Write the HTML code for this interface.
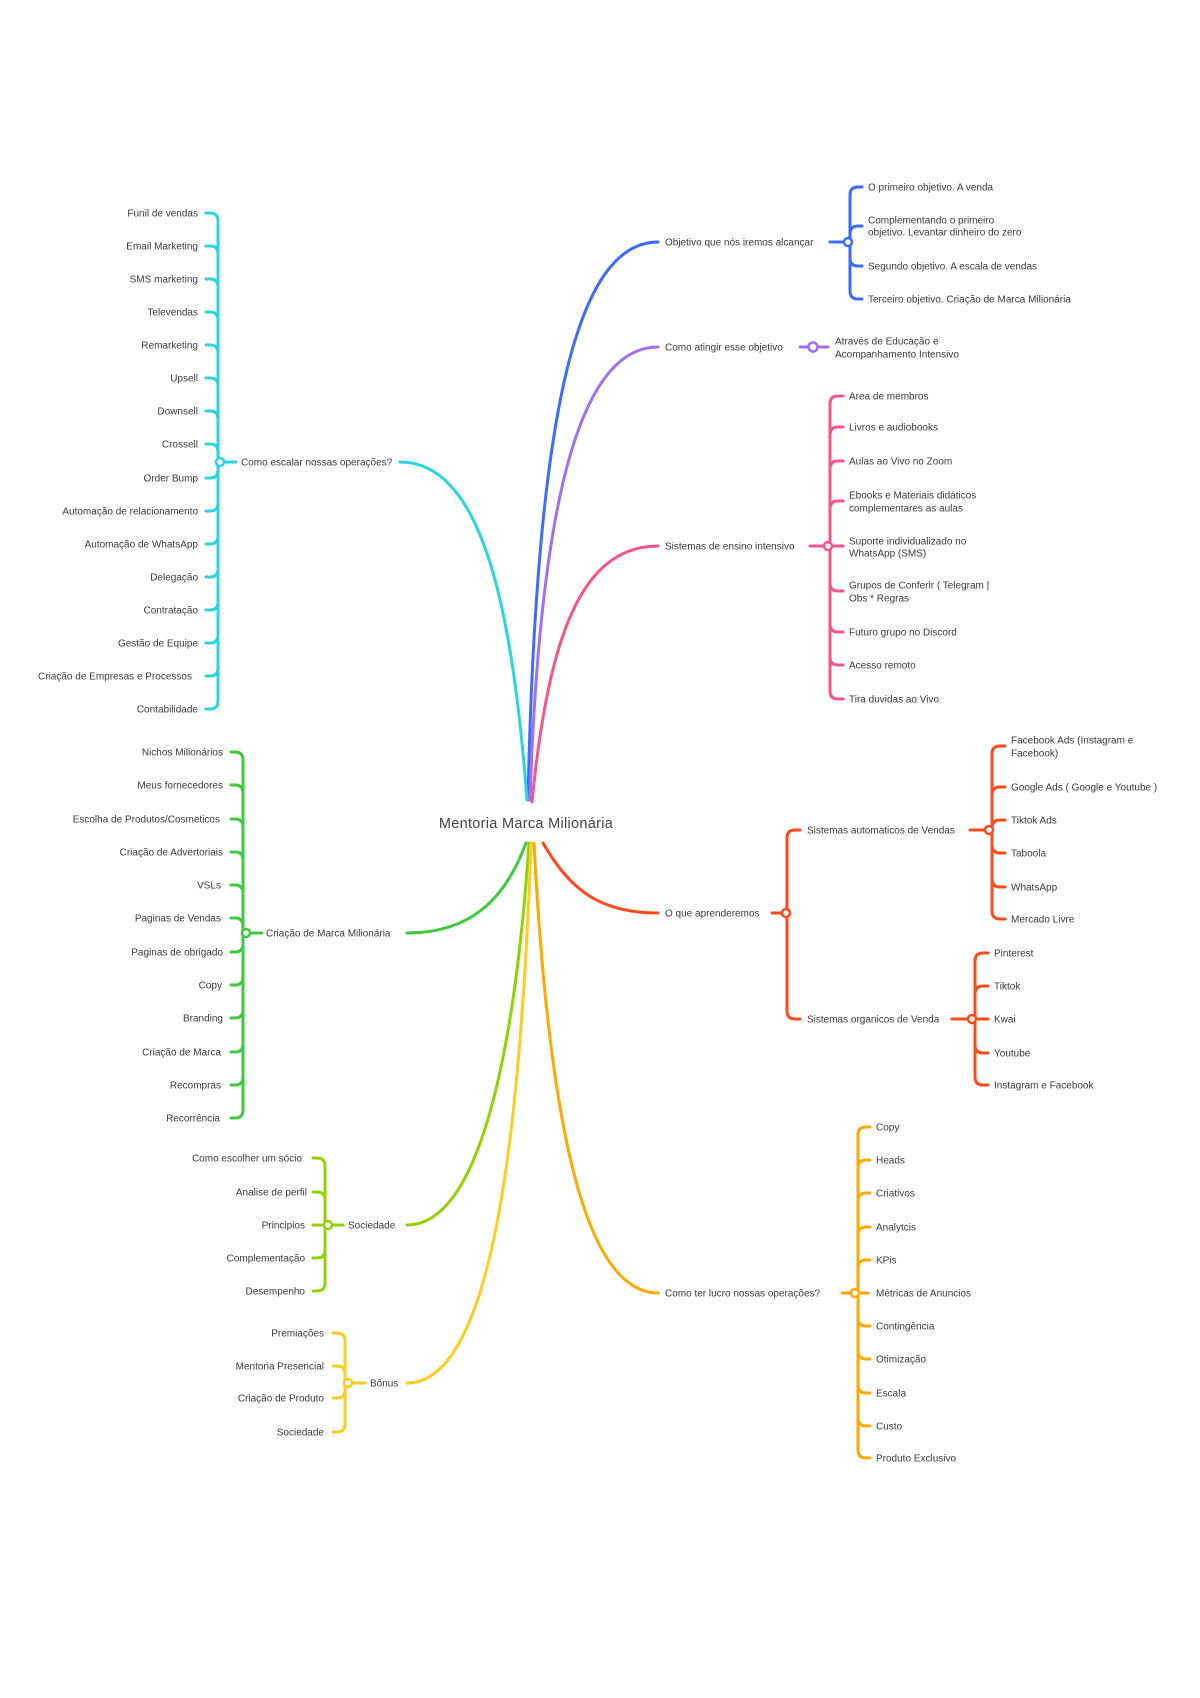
<!DOCTYPE html>
<html><head><meta charset="utf-8"><style>
html,body{margin:0;padding:0;background:#fff}
svg{display:block}
text{font-family:"Liberation Sans",sans-serif;font-size:10px;fill:#3a3a3a}
.e{text-anchor:end}
path,line{fill:none;stroke-width:3;stroke-linecap:round}
circle{fill:#fff;stroke-width:2.5}
</style></head><body>
<svg width="1200" height="1698" viewBox="0 0 1200 1698" xmlns="http://www.w3.org/2000/svg">
<text x="526" y="823" dy=".35em" style="font-size:14.5px;fill:#444;text-anchor:middle;letter-spacing:.3px">Mentoria Marca Milionária</text>

<!-- BLUE -->
<g stroke="#3d6bff">
<path d="M528 800 C536 420 575 242 658 242"/>
<line x1="830" y1="242" x2="846" y2="242"/>
<path d="M850 242 V195 Q850 187 858 187 H862"/>
<path d="M850 242 V234 Q850 226 858 226 H862"/>
<path d="M850 242 V258 Q850 266 858 266 H862"/>
<path d="M850 242 V291 Q850 299 858 299 H862"/>
<circle cx="848" cy="242" r="4"/>
</g>
<text x="665" y="242" dy=".35em">Objetivo que nós iremos alcançar</text>
<text x="868" y="187" dy=".35em">O primeiro objetivo. A venda</text>
<text x="868" y="220" dy=".35em">Complementando o primeiro</text>
<text x="868" y="232" dy=".35em">objetivo. Levantar dinheiro do zero</text>
<text x="868" y="266" dy=".35em">Segundo objetivo. A escala de vendas</text>
<text x="868" y="299" dy=".35em">Terceiro objetivo. Criação de Marca Milionária</text>

<!-- PURPLE -->
<g stroke="#a36ff2">
<path d="M530 800 C540 500 580 347 658 347"/>
<line x1="800" y1="347" x2="828" y2="347"/>
<circle cx="813" cy="347" r="4.5"/>
</g>
<text x="665" y="347" dy=".35em">Como atingir esse objetivo</text>
<text x="835" y="341" dy=".35em">Através de Educação e</text>
<text x="835" y="354" dy=".35em">Acompanhamento Intensivo</text>

<!-- PINK -->
<g stroke="#f5558a">
<path d="M532 802 C548 640 580 546 658 546"/>
<line x1="810" y1="546" x2="826" y2="546"/>
<path d="M830 546 V404 Q830 396 838 396 H843"/>
<path d="M830 546 V435 Q830 427 838 427 H843"/>
<path d="M830 546 V469 Q830 461 838 461 H843"/>
<path d="M830 546 V509 Q830 501 838 501 H843"/>
<path d="M830 546 H843"/>
<path d="M830 546 V583 Q830 591 838 591 H843"/>
<path d="M830 546 V624 Q830 632 838 632 H843"/>
<path d="M830 546 V657 Q830 665 838 665 H843"/>
<path d="M830 546 V691 Q830 699 838 699 H843"/>
<circle cx="828" cy="546" r="4"/>
</g>
<text x="665" y="546" dy=".35em">Sistemas de ensino intensivo</text>
<text x="849" y="396" dy=".35em">Area de membros</text>
<text x="849" y="427" dy=".35em">Livros e audiobooks</text>
<text x="849" y="461" dy=".35em">Aulas ao Vivo no Zoom</text>
<text x="849" y="495" dy=".35em">Ebooks e Materiais didáticos</text>
<text x="849" y="508" dy=".35em">complementares as aulas</text>
<text x="849" y="541" dy=".35em">Suporte individualizado no</text>
<text x="849" y="553" dy=".35em">WhatsApp (SMS)</text>
<text x="849" y="585" dy=".35em">Grupos de Conferir ( Telegram |</text>
<text x="849" y="598" dy=".35em">Obs * Regras</text>
<text x="849" y="632" dy=".35em">Futuro grupo no Discord</text>
<text x="849" y="665" dy=".35em">Acesso remoto</text>
<text x="849" y="699" dy=".35em">Tira duvidas ao Vivo</text>

<!-- CYAN -->
<g stroke="#2bd5dd">
<path d="M527 800 C512 600 480 462 400 462"/>
<line x1="224" y1="462" x2="236" y2="462"/>
<path d="M218 462 V221 Q218 213 210 213 H206"/>
<path d="M218 462 V254 Q218 246 210 246 H206"/>
<path d="M218 462 V287 Q218 279 210 279 H206"/>
<path d="M218 462 V320 Q218 312 210 312 H206"/>
<path d="M218 462 V353 Q218 345 210 345 H206"/>
<path d="M218 462 V386 Q218 378 210 378 H206"/>
<path d="M218 462 V419 Q218 411 210 411 H206"/>
<path d="M218 462 V452 Q218 444 210 444 H206"/>
<path d="M218 462 V470 Q218 478 210 478 H206"/>
<path d="M218 462 V503 Q218 511 210 511 H206"/>
<path d="M218 462 V536 Q218 544 210 544 H206"/>
<path d="M218 462 V569 Q218 577 210 577 H206"/>
<path d="M218 462 V602 Q218 610 210 610 H206"/>
<path d="M218 462 V635 Q218 643 210 643 H206"/>
<path d="M218 462 V668 Q218 676 210 676 H206"/>
<path d="M218 462 V701 Q218 709 210 709 H206"/>
<circle cx="220" cy="462" r="4"/>
</g>
<text x="241" y="462" dy=".35em">Como escalar nossas operações?</text>
<text class="e" x="198" y="213" dy=".35em">Funil de vendas</text>
<text class="e" x="198" y="246" dy=".35em">Email Marketing</text>
<text class="e" x="198" y="279" dy=".35em">SMS marketing</text>
<text class="e" x="198" y="312" dy=".35em">Televendas</text>
<text class="e" x="198" y="345" dy=".35em">Remarketing</text>
<text class="e" x="198" y="378" dy=".35em">Upsell</text>
<text class="e" x="198" y="411" dy=".35em">Downsell</text>
<text class="e" x="198" y="444" dy=".35em">Crossell</text>
<text class="e" x="198" y="478" dy=".35em">Order Bump</text>
<text class="e" x="198" y="511" dy=".35em">Automação de relacionamento</text>
<text class="e" x="198" y="544" dy=".35em">Automação de WhatsApp</text>
<text class="e" x="198" y="577" dy=".35em">Delegação</text>
<text class="e" x="198" y="610" dy=".35em">Contratação</text>
<text class="e" x="198" y="643" dy=".35em">Gestão de Equipe</text>
<text class="e" x="192" y="676" dy=".35em">Criação de Empresas e Processos</text>
<text class="e" x="198" y="709" dy=".35em">Contabilidade</text>

<!-- GREEN -->
<g stroke="#3ec93e">
<path d="M526 843 C505 900 470 933 407 933"/>
<line x1="250" y1="933" x2="262" y2="933"/>
<path d="M243 933 V760 Q243 752 235 752 H231"/>
<path d="M243 933 V793 Q243 785 235 785 H231"/>
<path d="M243 933 V827 Q243 819 235 819 H231"/>
<path d="M243 933 V860 Q243 852 235 852 H231"/>
<path d="M243 933 V893 Q243 885 235 885 H231"/>
<path d="M243 933 V926 Q243 918 235 918 H231"/>
<path d="M243 933 V944 Q243 952 235 952 H231"/>
<path d="M243 933 V977 Q243 985 235 985 H231"/>
<path d="M243 933 V1010 Q243 1018 235 1018 H231"/>
<path d="M243 933 V1044 Q243 1052 235 1052 H231"/>
<path d="M243 933 V1077 Q243 1085 235 1085 H231"/>
<path d="M243 933 V1110 Q243 1118 235 1118 H231"/>
<circle cx="246" cy="933" r="4"/>
</g>
<text x="266" y="933" dy=".35em">Criação de Marca Milionária</text>
<text class="e" x="223" y="752" dy=".35em">Nichos Milionários</text>
<text class="e" x="223" y="785" dy=".35em">Meus fornecedores</text>
<text class="e" x="220" y="819" dy=".35em">Escolha de Produtos/Cosmeticos</text>
<text class="e" x="223" y="852" dy=".35em">Criação de Advertoriais</text>
<text class="e" x="221" y="885" dy=".35em">VSLs</text>
<text class="e" x="221" y="918" dy=".35em">Paginas de Vendas</text>
<text class="e" x="223" y="952" dy=".35em">Paginas de obrigado</text>
<text class="e" x="222" y="985" dy=".35em">Copy</text>
<text class="e" x="223" y="1018" dy=".35em">Branding</text>
<text class="e" x="221" y="1052" dy=".35em">Criação de Marca</text>
<text class="e" x="221" y="1085" dy=".35em">Recompras</text>
<text class="e" x="220" y="1118" dy=".35em">Recorrência</text>

<!-- YELLOW-GREEN -->
<g stroke="#8fd400">
<path d="M529 843 C515 1050 480 1225 407 1225"/>
<line x1="332" y1="1225" x2="343" y2="1225"/>
<path d="M325 1225 V1166 Q325 1158 317 1158 H313"/>
<path d="M325 1225 V1200 Q325 1192 317 1192 H313"/>
<path d="M325 1225 H313"/>
<path d="M325 1225 V1250 Q325 1258 317 1258 H313"/>
<path d="M325 1225 V1283 Q325 1291 317 1291 H313"/>
<circle cx="328" cy="1225" r="4"/>
</g>
<text x="348" y="1225" dy=".35em">Sociedade</text>
<text class="e" x="302" y="1158" dy=".35em">Como escolher um sócio</text>
<text class="e" x="307" y="1192" dy=".35em">Analise de perfil</text>
<text class="e" x="305" y="1225" dy=".35em">Principios</text>
<text class="e" x="305" y="1258" dy=".35em">Complementação</text>
<text class="e" x="305" y="1291" dy=".35em">Desempenho</text>

<!-- YELLOW -->
<g stroke="#ffcc22">
<path d="M531 843 C520 1150 490 1383 407 1383"/>
<line x1="352" y1="1383" x2="365" y2="1383"/>
<path d="M345 1383 V1341 Q345 1333 337 1333 H333"/>
<path d="M345 1383 V1374 Q345 1366 337 1366 H333"/>
<path d="M345 1383 V1390 Q345 1398 337 1398 H333"/>
<path d="M345 1383 V1424 Q345 1432 337 1432 H333"/>
<circle cx="348" cy="1383" r="4"/>
</g>
<text x="370" y="1383" dy=".35em">Bônus</text>
<text class="e" x="324" y="1333" dy=".35em">Premiações</text>
<text class="e" x="324" y="1366" dy=".35em">Mentoria Presencial</text>
<text class="e" x="324" y="1398" dy=".35em">Criação de Produto</text>
<text class="e" x="324" y="1432" dy=".35em">Sociedade</text>

<!-- ORANGE -->
<g stroke="#ffa800">
<path d="M534 843 C550 1150 590 1293 658 1293"/>
<line x1="842" y1="1293" x2="868" y2="1293"/>
<path d="M858 1293 V1135 Q858 1127 866 1127 H870"/>
<path d="M858 1293 V1168 Q858 1160 866 1160 H870"/>
<path d="M858 1293 V1201 Q858 1193 866 1193 H870"/>
<path d="M858 1293 V1235 Q858 1227 866 1227 H870"/>
<path d="M858 1293 V1268 Q858 1260 866 1260 H870"/>
<path d="M858 1293 V1318 Q858 1326 866 1326 H870"/>
<path d="M858 1293 V1351 Q858 1359 866 1359 H870"/>
<path d="M858 1293 V1385 Q858 1393 866 1393 H870"/>
<path d="M858 1293 V1418 Q858 1426 866 1426 H870"/>
<path d="M858 1293 V1450 Q858 1458 866 1458 H870"/>
<circle cx="855" cy="1293" r="4"/>
</g>
<text x="665" y="1293" dy=".35em">Como ter lucro nossas operações?</text>
<text x="876" y="1127" dy=".35em">Copy</text>
<text x="876" y="1160" dy=".35em">Heads</text>
<text x="876" y="1193" dy=".35em">Criativos</text>
<text x="876" y="1227" dy=".35em">Analytcis</text>
<text x="876" y="1260" dy=".35em">KPis</text>
<text x="876" y="1293" dy=".35em">Métricas de Anuncios</text>
<text x="876" y="1326" dy=".35em">Contingência</text>
<text x="876" y="1359" dy=".35em">Otimização</text>
<text x="876" y="1393" dy=".35em">Escala</text>
<text x="876" y="1426" dy=".35em">Custo</text>
<text x="876" y="1458" dy=".35em">Produto Exclusivo</text>

<!-- RED -->
<g stroke="#ff4a1c">
<path d="M543 843 C570 890 600 913 658 913"/>
<line x1="772" y1="913" x2="783" y2="913"/>
<path d="M787 913 V838 Q787 830 795 830 H800"/>
<path d="M787 913 V1011 Q787 1019 795 1019 H800"/>
<circle cx="786" cy="913" r="4"/>
<line x1="970" y1="830" x2="986" y2="830"/>
<path d="M992 830 V754 Q992 746 1000 746 H1005"/>
<path d="M992 830 V795 Q992 787 1000 787 H1005"/>
<path d="M992 830 V828 Q992 820 1000 820 H1005"/>
<path d="M992 830 V845 Q992 853 1000 853 H1005"/>
<path d="M992 830 V879 Q992 887 1000 887 H1005"/>
<path d="M992 830 V911 Q992 919 1000 919 H1005"/>
<circle cx="989" cy="830" r="4"/>
<line x1="952" y1="1019" x2="988" y2="1019"/>
<path d="M975 1019 V961 Q975 953 983 953 H988"/>
<path d="M975 1019 V994 Q975 986 983 986 H988"/>
<path d="M975 1019 V1045 Q975 1053 983 1053 H988"/>
<path d="M975 1019 V1077 Q975 1085 983 1085 H988"/>
<circle cx="972" cy="1019" r="4"/>
</g>
<text x="665" y="913" dy=".35em">O que aprenderemos</text>
<text x="807" y="830" dy=".35em">Sistemas automaticos de Vendas</text>
<text x="807" y="1019" dy=".35em">Sistemas organicos de Venda</text>
<text x="1011" y="740" dy=".35em">Facebook Ads (Instagram e</text>
<text x="1011" y="753" dy=".35em">Facebook)</text>
<text x="1011" y="787" dy=".35em">Google Ads ( Google e Youtube )</text>
<text x="1011" y="820" dy=".35em">Tiktok Ads</text>
<text x="1011" y="853" dy=".35em">Taboola</text>
<text x="1011" y="887" dy=".35em">WhatsApp</text>
<text x="1011" y="919" dy=".35em">Mercado Livre</text>
<text x="994" y="953" dy=".35em">Pinterest</text>
<text x="994" y="986" dy=".35em">Tiktok</text>
<text x="994" y="1019" dy=".35em">Kwai</text>
<text x="994" y="1053" dy=".35em">Youtube</text>
<text x="994" y="1085" dy=".35em">Instagram e Facebook</text>
</svg>
</body></html>
